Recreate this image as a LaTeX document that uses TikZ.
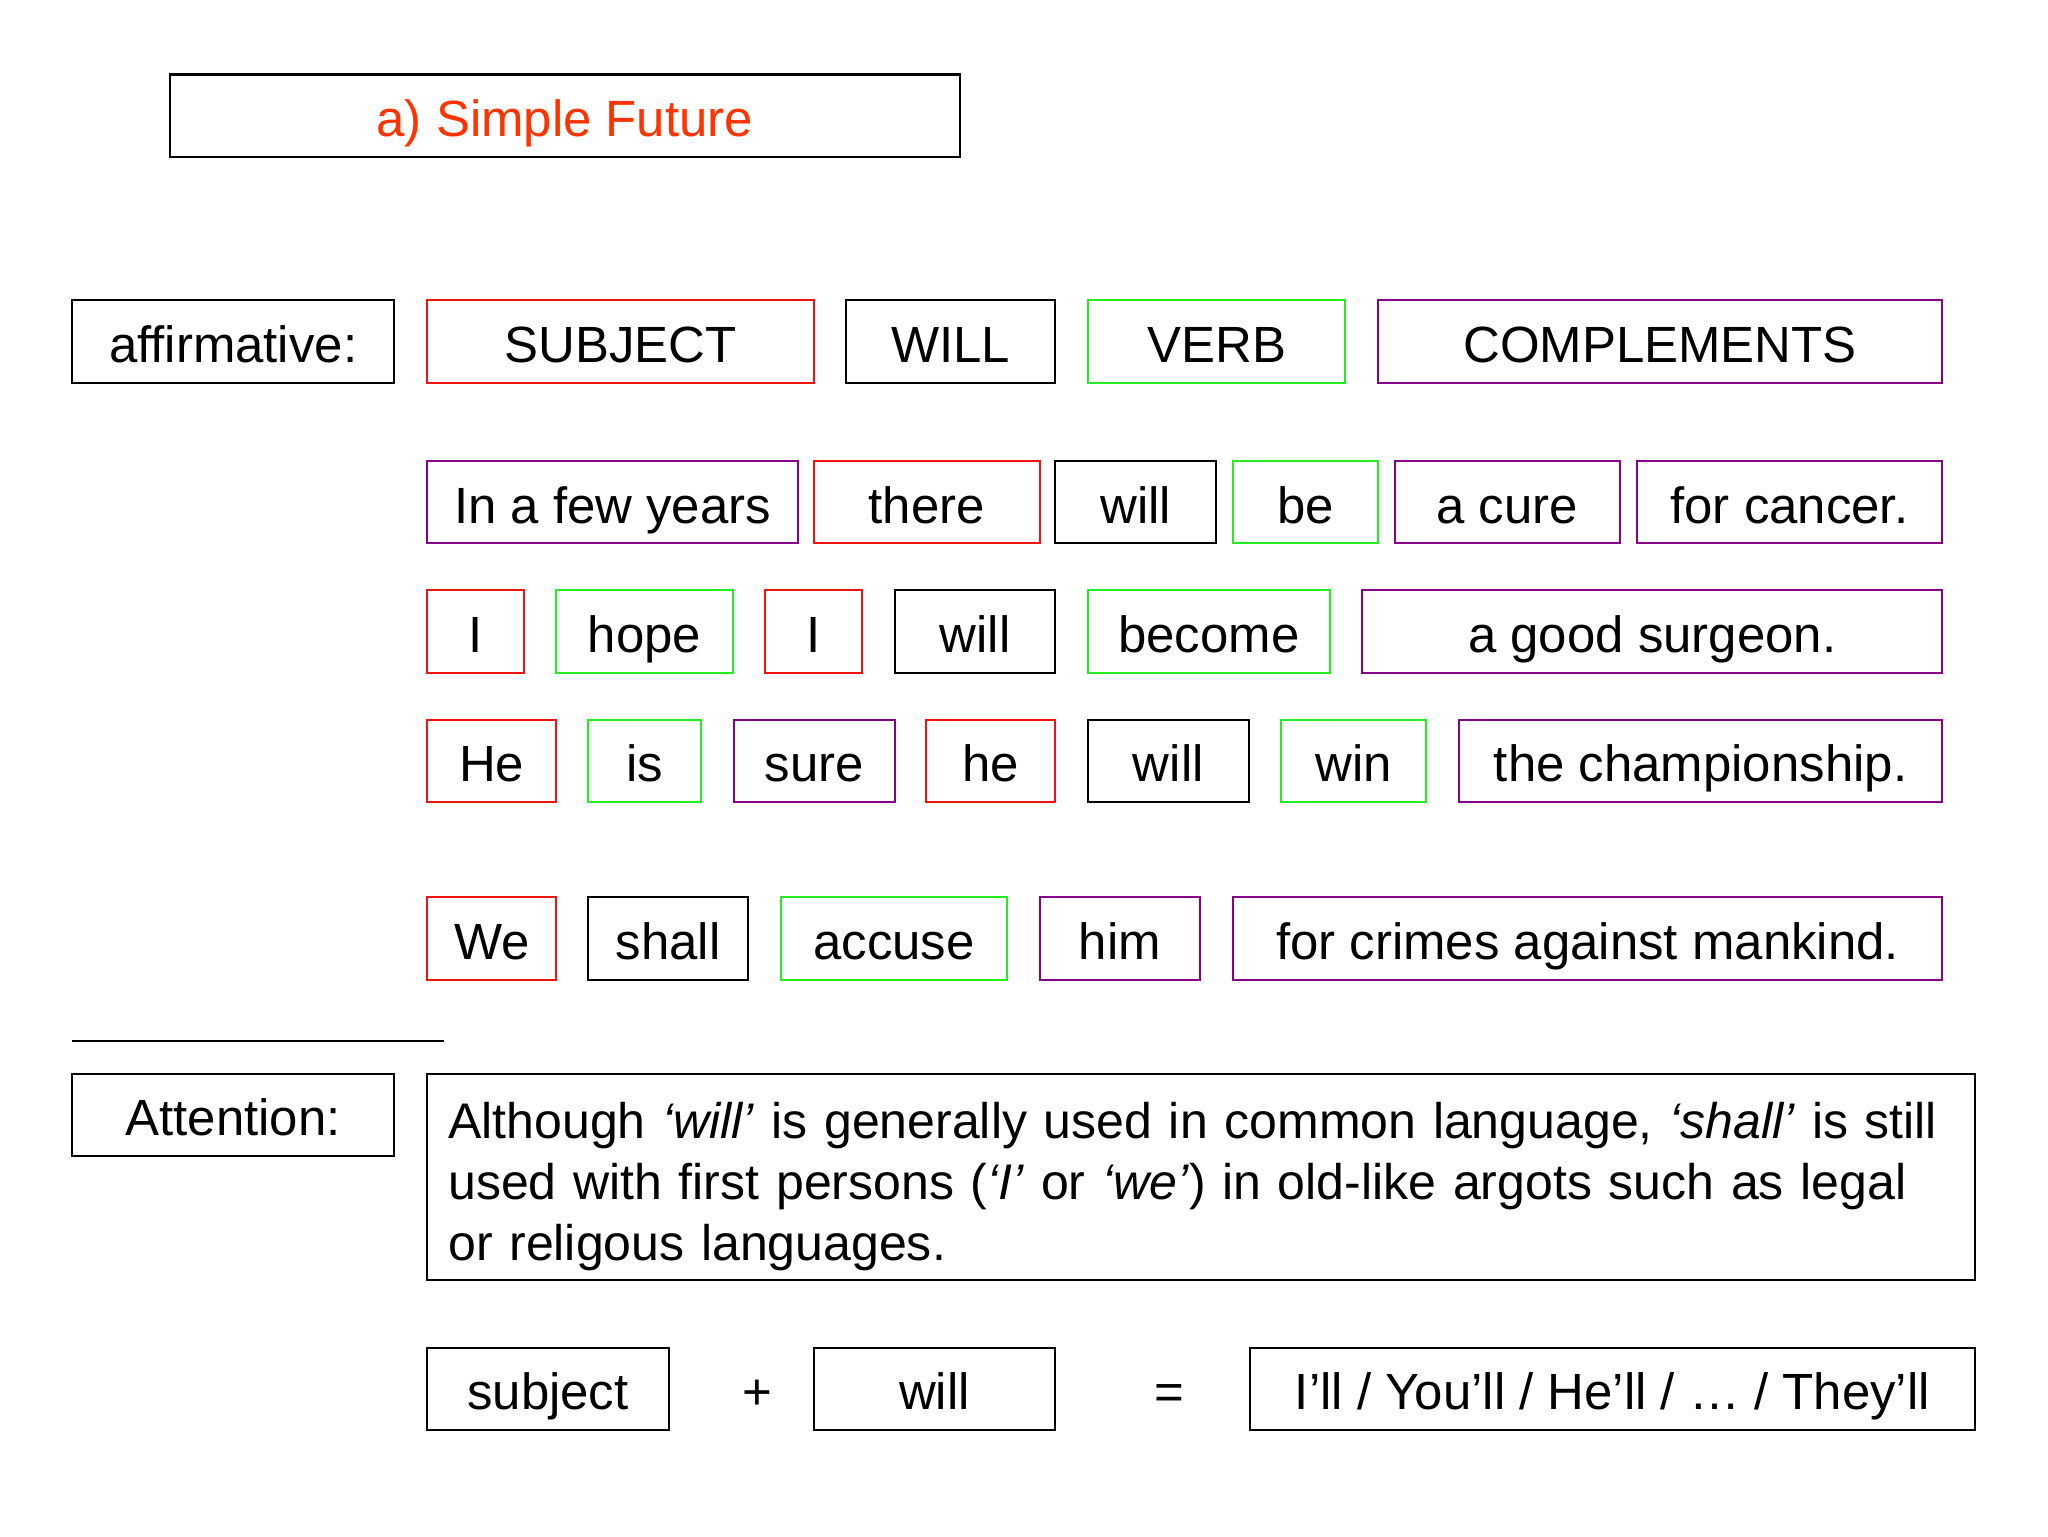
\documentclass[tikz,border=0pt]{standalone}
\usepackage{fontspec}
\setmainfont{Liberation Sans}
\definecolor{wred}{RGB}{238,20,20}
\definecolor{wgreen}{RGB}{34,238,34}
\definecolor{wpurple}{RGB}{136,0,136}
\definecolor{wtitle}{RGB}{255,51,0}
\newcommand{\bigtxt}{\fontsize{39}{46.5}\selectfont}
\newcommand{\notetxt}{\fontsize{38.3}{46.5}\selectfont}
\tikzset{
  wbox/.style={draw=black, line width=1.6pt, inner sep=0pt, text height=32pt, text depth=0pt, font=\bigtxt, align=center},
  plain/.style={inner sep=0pt, text height=32pt, text depth=0pt, font=\bigtxt},
}
\newcommand{\wb}[7]{%
  \node[wbox, draw=#2, minimum width={(#4-#3)*1pt}, minimum height={(#6-#5)*1pt}] (#1) at ({(#3+#4)/2},{(#5+#6)/2}) {#7};}
\begin{document}
\begin{tikzpicture}[x=1pt,y=-1pt]
\useasboundingbox (0,0) rectangle (1568,1176);
% title
\node[wbox, minimum width=605pt, minimum height=63pt, text=wtitle] (title) at (432.5,88.5) {a) Simple Future};
% header row
\wb{aff}{black}{55}{302}{230}{293}{affirmative:}
\wb{hsubj}{wred}{327}{623}{230}{293}{SUBJECT}
\wb{hwill}{black}{648}{808}{230}{293}{WILL}
\wb{hverb}{wgreen}{833}{1030}{230}{293}{VERB}
\wb{hcomp}{wpurple}{1055}{1487}{230}{293}{COMPLEMENTS}
% row 1
\wb{a1}{wpurple}{327}{611}{353}{416}{In a few years}
\wb{a2}{wred}{623}{796}{353}{416}{there}
\wb{a3}{black}{808}{931}{353}{416}{will}
\wb{a4}{wgreen}{944}{1055}{353}{416}{be}
\wb{a5}{wpurple}{1068}{1240}{353}{416}{a cure}
\wb{a6}{wpurple}{1253}{1487}{353}{416}{for cancer.}
% row 2
\wb{b1}{wred}{327}{401}{452}{515}{I}
\wb{b2}{wgreen}{426}{561}{452}{515}{hope}
\wb{b3}{wred}{586}{660}{452}{515}{I}
\wb{b4}{black}{685}{808}{452}{515}{will}
\wb{b5}{wgreen}{833}{1018}{452}{515}{become}
\wb{b6}{wpurple}{1043}{1487}{452}{515}{a good surgeon.}
% row 3
\wb{c1}{wred}{327}{426}{551}{614}{He}
\wb{c2}{wgreen}{450}{537}{551}{614}{is}
\wb{c3}{wpurple}{562}{685}{551}{614}{sure}
\wb{c4}{wred}{709}{808}{551}{614}{he}
\wb{c5}{black}{833}{956}{551}{614}{will}
\wb{c6}{wgreen}{981}{1092}{551}{614}{win}
\wb{c7}{wpurple}{1117}{1487}{551}{614}{the championship.}
% row 4
\wb{d1}{wred}{327}{426}{687}{750}{We}
\wb{d2}{black}{450}{573}{687}{750}{shall}
\wb{d3}{wgreen}{598}{771}{687}{750}{accuse}
\wb{d4}{wpurple}{796}{919}{687}{750}{him}
\wb{d5}{wpurple}{944}{1487}{687}{750}{for crimes against mankind.}
% separator
\coordinate (s1) at (55,797);
\coordinate (s2) at (340,797);
\draw[line width=1.6pt] (s1) -- (s2);
% attention
\wb{att}{black}{55}{302}{822}{885}{Attention:}
\wb{notebox}{black}{327}{1512}{822}{980}{}
\node[anchor=base west, inner sep=0pt, text width=1165pt, align=left, font=\notetxt] (notetext) at (343,872)
  {Although \textit{‘will’} is generally used in common language, \textit{‘shall’} is still\\
   used with first persons (\textit{‘I’} or \textit{‘we’}) in old-like argots such as legal\\
   or religous languages.};
% bottom
\wb{e1}{black}{327}{512}{1032}{1095}{subject}
\node[plain] (plus) at (580,1063.5) {+};
\wb{e2}{black}{623}{808}{1032}{1095}{will}
\node[plain] (eq) at (895,1063.5) {=};
\wb{e3}{black}{957}{1512}{1032}{1095}{I’ll / You’ll / He’ll / … / They’ll}
\end{tikzpicture}
\end{document}
